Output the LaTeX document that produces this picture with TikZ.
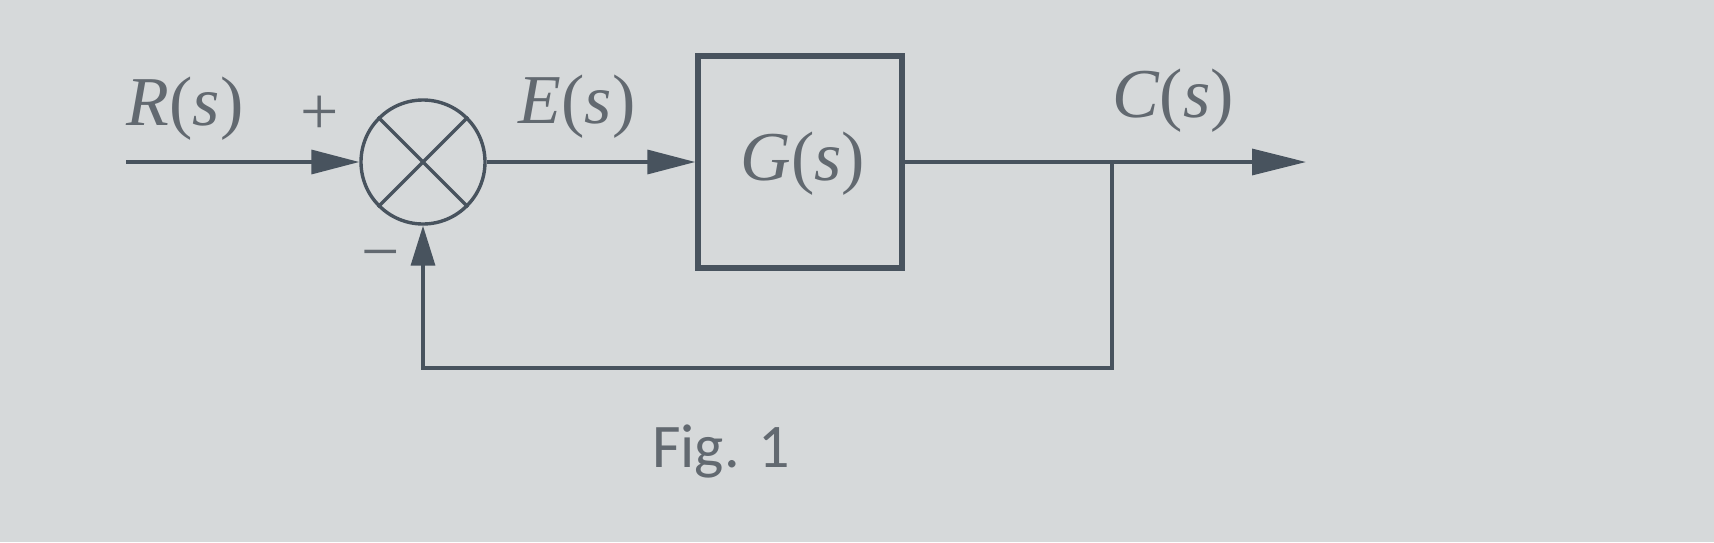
\documentclass[tikz,border=0pt]{standalone}
\usepackage{fontspec}
\setmainfont{Liberation Serif}
\newfontfamily\figfont{Carlito}
\usetikzlibrary{arrows.meta}
\definecolor{bg}{RGB}{214,217,218}
\definecolor{ln}{RGB}{72,83,94}
\definecolor{tx}{RGB}{98,105,112}
\tikzset{
  wire/.style={draw=ln, line width=1.7pt, line join=miter},
  arr/.style={wire, -{Triangle[length=24pt,width=12pt]}},
  lbl/.style={text=tx, font=\fontsize{35}{40}\selectfont, inner sep=0pt},
  sgn/.style={text=tx, font=\fontsize{34}{38}\selectfont, inner sep=0pt},
}
\begin{document}
\begin{tikzpicture}[x=0.5pt,y=-0.5pt]
  \fill[bg] (0,0) rectangle (1714,542);
  \useasboundingbox (0,0) rectangle (1714,542);
  % nodes
  \coordinate (in) at (126,162);
  \node[circle, draw=ln, line width=1.7pt, minimum size=62pt, inner sep=0pt] (sum) at (423,162) {};
  \draw[ln, line width=1.7pt] (sum.north west) -- (sum.south east);
  \draw[ln, line width=1.7pt] (sum.north east) -- (sum.south west);
  \node[draw=ln, line width=2.7pt, minimum width=102pt, minimum height=106pt, inner sep=0pt] (G) at (800,162) {};
  \node[lbl] (Gt) at (803,164) {\textit{G}(\textit{s})};
  \coordinate (br) at (1112,162);
  \coordinate (out) at (1306,162);
  \coordinate (bR) at (1112,368);
  \coordinate (bL) at (423,368);
  % labels
  \node[lbl] (R) at (185,109) {\textit{R}(\textit{s})};
  \node[lbl] (E) at (577,107) {\textit{E}(\textit{s})};
  \node[lbl] (C) at (1173,101) {\textit{C}(\textit{s})};
  \node[sgn] (plus) at (320,115) {+};
  \node[sgn] (minus) at (381,262) {−};
  \node[text=tx, font=\figfont\fontsize{31}{36}\selectfont, inner sep=0pt] (fig) at (721,451) {Fig. 1};
  % connectors
  \draw[arr] (in) -- (sum.west);
  \draw[arr] (sum.east) -- (G.west);
  \draw[arr, -{Triangle[length=27pt,width=13pt]}] (G.east) -- (out);
  \draw[arr, -{Triangle[length=20pt,width=12pt]}] (br) -- (bR) -- (bL) -- (sum.south);
\end{tikzpicture}
\end{document}
